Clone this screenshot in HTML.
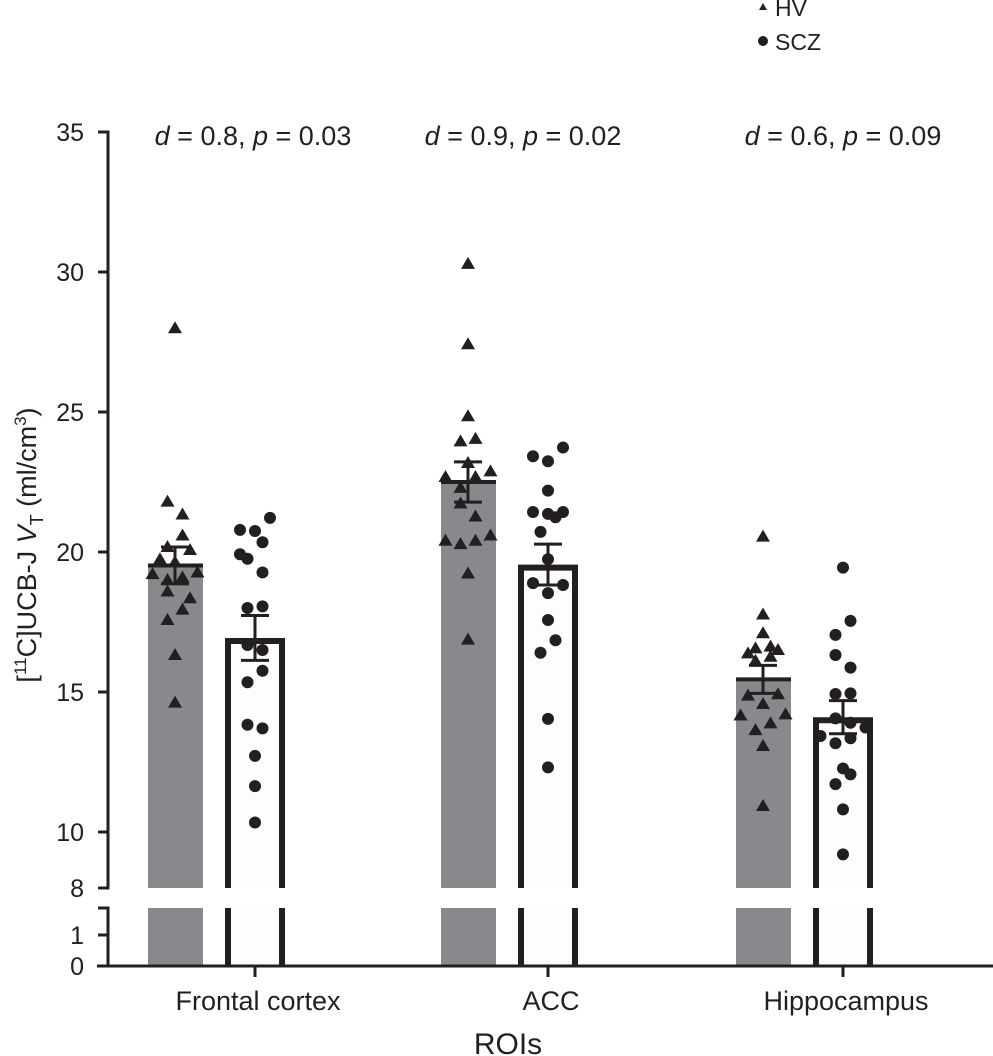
<!DOCTYPE html>
<html><head><meta charset="utf-8"><style>
html,body{margin:0;padding:0;background:#fff;}
svg{display:block;font-family:"Liberation Sans",Arial,sans-serif;}
</style></head><body>
<svg id="chart" width="993" height="1056" viewBox="0 0 993 1056" xmlns="http://www.w3.org/2000/svg">
<g id="layer"></g>
</svg>
<script>
const categories = ["Frontal cortex","ACC","Hippocampus"];
const annotations = ["= 0.8, ","= 0.9, ","= 0.6, "];
const pvals = ["= 0.03","= 0.02","= 0.09"];
const hvMeans = [19.52, 22.5, 15.45];
const hvSE = [0.66, 0.72, 0.5];
const sczMeans = [16.93, 19.55, 14.1];
const sczSE = [0.8, 0.73, 0.59];
const hvPoints = [
 [27.99,21.8,21.34,20.59,20.18,20.07,19.74,19.64,19.21,19.27,19.0,19.09,18.59,18.35,17.94,17.57,16.32,14.62],
 [30.29,27.42,24.85,23.95,24.04,23.18,22.68,22.88,22.68,22.29,21.73,21.27,20.4,20.28,20.4,20.59,19.23,16.87],
 [20.55,17.77,17.1,16.56,16.62,16.5,16.38,16.26,16.11,14.87,14.92,14.57,14.16,14.2,13.88,13.64,13.07,10.93]
];
const hvJitter = [
 [0,-1,1,1,-1,2,-2,0,-3,3,-1,1,-1,2,1,-1,0,0],
 [0,0,0,-1,1,0,-3,3,1,-1,-1,1,-3,-1,1,3,0,0],
 [0,0,0,-1,1,2,-2,1,-1,-2,2,0,-3,3,1,-1,0,0]
];
const sczPoints = [
 [21.22,20.79,20.75,20.35,19.92,19.76,19.27,18.0,18.06,16.68,16.5,15.76,15.35,13.83,13.7,12.72,11.64,10.34],
 [23.73,23.42,23.24,22.19,21.43,21.36,21.24,21.43,20.72,19.74,18.89,18.82,18.53,17.57,16.85,16.4,14.04,12.31],
 [19.44,17.54,17.04,16.32,15.87,14.93,14.95,14.06,13.9,13.43,13.17,13.35,13.73,12.27,12.06,11.71,10.81,9.2]
];
const sczJitter = [
 [2,-2,0,1,-2,-1,1,-1,1,-1,1,1,-1,-1,1,0,0,0],
 [2,-2,0,0,-2,0,1,2,-1,0,-2,2,0,0,1,-1,0,0],
 [0,1,-1,-1,1,-1,1,-1,1,-3,-1,1,3,0,1,-1,0,0]
];
const upperTicks = [35,30,25,20,15,10,8];
const lowerTicks = [1,0];

const NS="http://www.w3.org/2000/svg";
const layer=document.getElementById('layer');
function el(tag,attrs,parent){const e=document.createElementNS(NS,tag);for(const k in attrs)e.setAttribute(k,attrs[k]);(parent||layer).appendChild(e);return e;}
function yU(v){return 132+(35-v)*28;}
function yL(v){return 966-v*31;}
const yBreakTop=888, yBreakBot=908;
const catCenter=[255,548,843];
const annCenter=[253,523,843];
function xHV(i){return catCenter[i]-80;}
function xSCZ(i){return catCenter[i]+0;}
const jitterScale=7.5;

categories.forEach((c,i)=>{
  const hx=xHV(i)-27;
  let b=el('rect',{x:hx,y:yU(hvMeans[i]),width:55,height:yBreakTop-yU(hvMeans[i]),fill:'#88898c'});
  
  
  let b2=el('rect',{x:hx,y:yBreakBot,width:55,height:966-yBreakBot,fill:'#88898c'});
  
  
  const sx=xSCZ(i)-30, sy=yU(sczMeans[i]);
  let s=el('path',{d:`M${sx+3},${yBreakTop} V${sy+3} H${sx+57} V${yBreakTop}`,fill:'#fdfdfd',stroke:'#231f20','stroke-width':6});
  
  
  el('rect',{x:sx+6,y:yBreakBot,width:48,height:966-yBreakBot,fill:'#fdfdfd'});
  let s2=el('path',{d:`M${sx+3},${yBreakBot} V966 M${sx+57},${yBreakBot} V966`,fill:'none',stroke:'#231f20','stroke-width':6});
  
  
});
categories.forEach((c,i)=>{
  hvPoints[i].forEach((v,j)=>{
    const x=xHV(i)+hvJitter[i][j]*jitterScale, y=yU(v);
    const t=el('path',{d:`M${x},${y-7} L${x+7},${y+5} L${x-7},${y+5} Z`,fill:'#231f20'});
    
    
  });
  sczPoints[i].forEach((v,j)=>{
    const p=el('circle',{cx:xSCZ(i)+sczJitter[i][j]*jitterScale,cy:yU(v),r:6,fill:'#231f20'});
    
    
  });
});
categories.forEach((c,i)=>{
  let x=xHV(i),m=hvMeans[i],se=hvSE[i];
  const g=el('g',{stroke:'#231f20','stroke-width':3});
  
  
  el('line',{x1:x,x2:x,y1:yU(m+se),y2:yU(m-se)},g);
  el('line',{x1:x-14,x2:x+14,y1:yU(m+se),y2:yU(m+se)},g);
  el('line',{x1:x-14,x2:x+14,y1:yU(m-se),y2:yU(m-se)},g);
  el('line',{x1:x-27,x2:x+28,y1:yU(m),y2:yU(m),'stroke-width':4},g);
  x=xSCZ(i);m=sczMeans[i];se=sczSE[i];
  const g2=el('g',{stroke:'#231f20','stroke-width':3});
  
  
  el('line',{x1:x,x2:x,y1:yU(m+se),y2:yU(m-se)},g2);
  el('line',{x1:x-14,x2:x+14,y1:yU(m+se),y2:yU(m+se)},g2);
  el('line',{x1:x-14,x2:x+14,y1:yU(m-se),y2:yU(m-se)},g2);
});
const ax=el('g',{stroke:'#231f20','stroke-width':3,fill:'none'});


el('line',{x1:108,x2:108,y1:yU(35)-1.5,y2:yBreakTop+1.5},ax);
el('line',{x1:108,x2:108,y1:yBreakBot-1.5,y2:966},ax);
el('line',{x1:98,x2:108,y1:yBreakBot,y2:yBreakBot},ax);
function tickLabel(t,y){
  const tx=el('text',{x:84,y:y+9,'text-anchor':'end','font-size':25,fill:'#231f20',stroke:'none'});
  tx.textContent=t;
  
  
}
upperTicks.forEach(t=>{el('line',{x1:98,x2:108,y1:yU(t),y2:yU(t)},ax);tickLabel(t,yU(t));});
lowerTicks.forEach(t=>{el('line',{x1:98,x2:108,y1:yL(t),y2:yL(t)},ax);tickLabel(t,yL(t));});
const xa=el('line',{x1:97,x2:993,y1:966,y2:966,stroke:'#231f20','stroke-width':3});


categories.forEach((c,i)=>{
  el('line',{x1:catCenter[i],x2:catCenter[i],y1:966,y2:977,stroke:'#231f20','stroke-width':3});
  const tx=el('text',{x:catCenter[i]+3,y:1010,'text-anchor':'middle','font-size':27,fill:'#231f20'});
  tx.textContent=c;
  
  
  const an=el('text',{x:annCenter[i],y:145,'text-anchor':'middle','font-size':27,fill:'#231f20'});
  an.innerHTML=`<tspan font-style="italic">d</tspan> ${annotations[i]}<tspan font-style="italic">p</tspan> ${pvals[i]}`;
  
  
});
const xt=el('text',{x:508,y:1054,'text-anchor':'middle','font-size':30,fill:'#231f20'});
xt.textContent='ROIs';


const yt=el('text',{x:0,y:0,'text-anchor':'middle','font-size':27,fill:'#231f20',transform:'translate(36,545) rotate(-90)'});
yt.innerHTML='[<tspan font-size="17" dy="-10">11</tspan><tspan dy="10">C]UCB-J </tspan><tspan font-style="italic">V</tspan><tspan font-size="18" dy="7">T</tspan><tspan dy="-7"> (ml/cm</tspan><tspan font-size="17" dy="-10">3</tspan><tspan dy="10">)</tspan>';


const lg=el('g',{});


const l1=el('g',{},lg);


el('path',{d:'M763,3 L767,10 L759,10 Z',fill:'#231f20'},l1);
const t1=el('text',{x:775,y:16,'font-size':23,fill:'#231f20'},l1);t1.textContent='HV';
const l2=el('g',{},lg);


el('circle',{cx:763,cy:41,r:5,fill:'#231f20'},l2);
const t2=el('text',{x:775,y:50,'font-size':23,fill:'#231f20'},l2);t2.textContent='SCZ';
</script>
</body></html>
